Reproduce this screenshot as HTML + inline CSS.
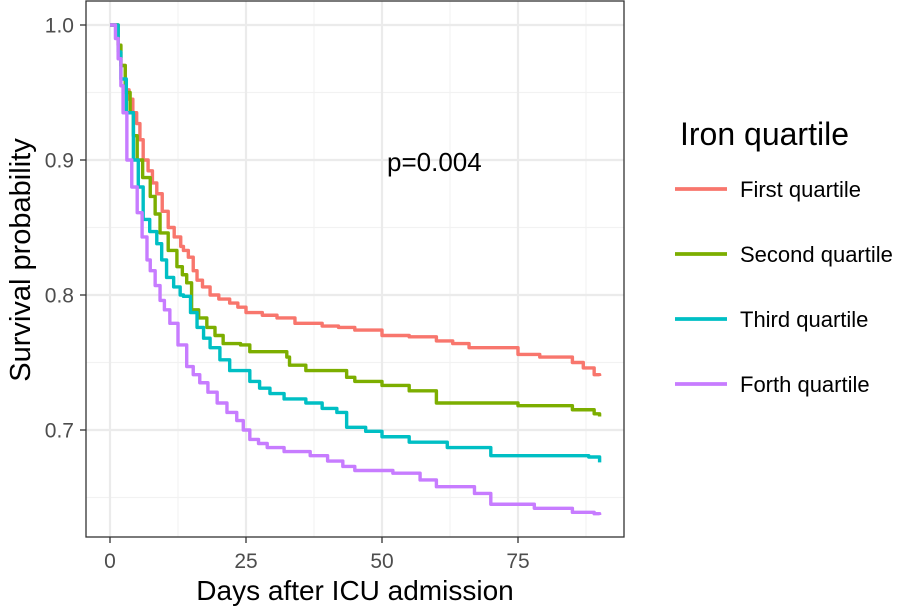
<!DOCTYPE html>
<html><head><meta charset="utf-8"><style>
body{margin:0;background:#fff;}
svg{display:block;font-family:"Liberation Sans",sans-serif;}
</style></head><body>
<svg id="chart" width="900" height="609">
<g id="grid"></g>
<g id="series"></g>
<rect x="86" y="1" width="538" height="536" fill="none" stroke="#333" stroke-width="1.3"/>
<g id="axes"></g>
<text x="387" y="171" font-size="26" fill="#000">p=0.004</text>
<text x="355" y="600" text-anchor="middle" font-size="28" fill="#000">Days after ICU admission</text>
<text transform="translate(30,260) rotate(-90)" text-anchor="middle" font-size="29" fill="#000">Survival probability</text>
<g id="legend">
<text x="680" y="145" font-size="32" fill="#000">Iron quartile</text>
</g>
</svg>
<script>
const names=["First quartile","Second quartile","Third quartile","Forth quartile"];
const colors=["#F8766D","#7CAE00","#00BFC4","#C77CFF"];
const xTicks=[0,25,50,75];
const yTicks=[0.7,0.8,0.9,1.0];
const tFirst=[0,1,1.5,2,2.8,3.5,4.2,4.9,5.5,6.1,7,7.8,8.6,9.6,10.7,11.8,13,13.5,14.4,15.3,16,17,18.4,20,22,23.5,25,28,30.7,34,39,42,45,50,55,60,63,66,75,79,85,87,89,90];
const sFirst=[1,1,0.985,0.97,0.952,0.945,0.935,0.927,0.915,0.9,0.892,0.883,0.875,0.862,0.85,0.843,0.836,0.833,0.828,0.818,0.811,0.806,0.80,0.797,0.794,0.791,0.787,0.785,0.783,0.779,0.777,0.776,0.774,0.770,0.769,0.766,0.764,0.761,0.756,0.754,0.750,0.746,0.741,0.740];
const tSecond=[0,1,1.5,2,2.8,3.7,4.3,5,6,7.4,8.3,9.2,10.7,12.3,13.3,14.1,15,16.3,17.8,19.3,20.8,24,25.7,32.5,33,36,43.5,45,50,55,60,75,85,89,90];
const sSecond=[1,1,0.985,0.97,0.95,0.935,0.918,0.9,0.887,0.873,0.86,0.846,0.833,0.821,0.815,0.809,0.789,0.783,0.776,0.77,0.764,0.763,0.758,0.754,0.748,0.744,0.739,0.736,0.733,0.729,0.72,0.718,0.715,0.712,0.710];
const tThird=[0,1,1.5,2,3,4.3,5.2,6.1,7.3,8.6,9.5,10.4,11.7,12.9,13.5,14.8,16,17.2,18.4,20.2,22,25.7,27.5,29.4,32,36,39,41.7,43.5,47,50,55,62,70,88,90];
const sThird=[1,1,0.98,0.96,0.935,0.9,0.88,0.856,0.847,0.838,0.826,0.813,0.806,0.80,0.799,0.787,0.776,0.768,0.761,0.752,0.744,0.736,0.731,0.727,0.723,0.72,0.716,0.713,0.702,0.699,0.695,0.691,0.687,0.681,0.680,0.676];
const tForth=[0,0.5,1,1.5,2,2.4,3.1,4,5,5.9,6.8,7.4,8.3,9.2,10,11,12.5,14.1,15.3,16.5,18,19.7,21.5,23.3,24.5,25.7,27.3,28.9,32,36.8,40,42.8,45,52,57,60,67,70,78,85,89,90];
const sForth=[1,1,0.99,0.975,0.955,0.935,0.9,0.88,0.861,0.843,0.826,0.818,0.807,0.796,0.789,0.779,0.763,0.747,0.741,0.735,0.728,0.72,0.713,0.707,0.70,0.693,0.69,0.687,0.684,0.681,0.677,0.673,0.670,0.668,0.663,0.658,0.653,0.645,0.642,0.639,0.638,0.637];
const T=[tFirst,tSecond,tThird,tForth], S=[sFirst,sSecond,sThird,sForth];
const NS="http://www.w3.org/2000/svg";
const xS=d=>110+d*(136/25);
const yS=v=>25+(1-v)*1350;
function mk(tag,attrs,parent){const e=document.createElementNS(NS,tag);for(const k in attrs)e.setAttribute(k,attrs[k]);parent.appendChild(e);return e;}
const grid=document.getElementById('grid'),axes=document.getElementById('axes'),ser=document.getElementById('series'),leg=document.getElementById('legend');
mk('rect',{x:86,y:1,width:538,height:536,fill:'#fff'},grid);
[12.5,37.5,62.5,87.5].forEach(d=>{const l=mk('line',{x1:xS(d),x2:xS(d),y1:1,y2:537,stroke:'#f2f2f2','stroke-width':1.2},grid);

});
[0.65,0.75,0.85,0.95].forEach(v=>{const l=mk('line',{x1:86,x2:624,y1:yS(v),y2:yS(v),stroke:'#f2f2f2','stroke-width':1.2},grid);

});
xTicks.forEach(d=>{const l=mk('line',{x1:xS(d),x2:xS(d),y1:1,y2:537,stroke:'#ebebeb','stroke-width':2.2},grid);


const t=mk('line',{x1:xS(d),x2:xS(d),y1:537,y2:543,stroke:'#333','stroke-width':1.3},axes);


const tx=mk('text',{x:xS(d),y:568,'text-anchor':'middle','font-size':21,fill:'#4d4d4d'},axes);tx.textContent=d;

});
yTicks.forEach(v=>{const l=mk('line',{x1:86,x2:624,y1:yS(v),y2:yS(v),stroke:'#ebebeb','stroke-width':2.2},grid);


const t=mk('line',{x1:80,x2:86,y1:yS(v),y2:yS(v),stroke:'#333','stroke-width':1.3},axes);


const tx=mk('text',{x:74,y:yS(v)+7.5,'text-anchor':'end','font-size':21,fill:'#4d4d4d'},axes);tx.textContent=v.toFixed(1);

});
T.forEach((ts,i)=>{const ss=S[i];let d='M'+xS(ts[0])+','+yS(ss[0]);
for(let j=1;j<ts.length;j++){d+=' H'+xS(ts[j])+' V'+yS(ss[j]);}
const p=mk('path',{d:d,fill:'none',stroke:colors[i],'stroke-width':3.4,'stroke-linejoin':'round'},ser);


const y=189+i*65;
const ll=mk('line',{x1:675,x2:727,y1:y,y2:y,stroke:colors[i],'stroke-width':3.8},leg);


const lt=mk('text',{x:740,y:y+8,'font-size':22,fill:'#000'},leg);lt.textContent=names[i];

});
</script>
</body></html>
